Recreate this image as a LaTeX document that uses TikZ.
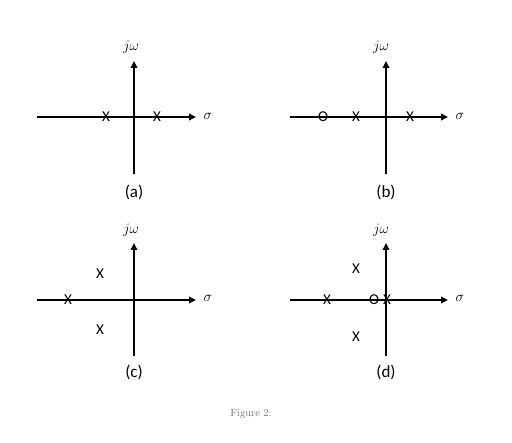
\documentclass[tikz,border=0pt]{standalone}
\usepackage{fontspec}
\newfontfamily\lblfont{Carlito}
\usetikzlibrary{arrows.meta}
\begin{document}
\begin{tikzpicture}[x=1pt,y=-1pt,
  axis/.style={line width=1.8pt},
  axarrow/.style={axis,-{Triangle[length=7pt,width=6.5pt]}},
  pzmark/.style={font=\lblfont\fontsize{15}{15}\selectfont, inner sep=0pt},
  panel/.style={font=\lblfont\fontsize{17}{17}\selectfont, inner sep=0pt},
  axlabel/.style={font=\fontsize{14}{14}\selectfont, inner sep=0pt},
  caption/.style={font=\fontsize{10.5}{10.5}\selectfont, text=black!55, inner sep=0pt}]
\useasboundingbox (0,0) rectangle (512,443);
\fill[white] (0,0) rectangle (512,443);

% ---------- panel (a) ----------
\coordinate (aL) at (37,117);
\coordinate (aR) at (196,117);
\coordinate (aT) at (134,61);
\coordinate (aB) at (134,174);
\draw[axarrow] (aL) -- (aR);
\draw[axarrow] (aB) -- (aT);
\node[axlabel] (ajw) at (131,47) {$j\omega$};
\node[axlabel] (asig) at (208,116) {$\sigma$};
\node[pzmark] (ax1) at (106,117) {X};
\node[pzmark] (ax2) at (157,117) {X};
\node[panel] (alab) at (134,192) {(a)};

% ---------- panel (b) ----------
\coordinate (bL) at (290,117);
\coordinate (bR) at (448,117);
\coordinate (bT) at (386,61);
\coordinate (bB) at (386,174);
\draw[axarrow] (bL) -- (bR);
\draw[axarrow] (bB) -- (bT);
\node[axlabel] (bjw) at (381,47) {$j\omega$};
\node[axlabel] (bsig) at (460,116) {$\sigma$};
\node[pzmark] (bo1) at (323,117) {O};
\node[pzmark] (bx1) at (356,117) {X};
\node[pzmark] (bx2) at (410,117) {X};
\node[panel] (blab) at (386,192) {(b)};

% ---------- panel (c) ----------
\coordinate (cL) at (37,300);
\coordinate (cR) at (196,300);
\coordinate (cT) at (134,243);
\coordinate (cB) at (134,356);
\draw[axarrow] (cL) -- (cR);
\draw[axarrow] (cB) -- (cT);
\node[axlabel] (cjw) at (131,230) {$j\omega$};
\node[axlabel] (csig) at (208,298) {$\sigma$};
\node[pzmark] (cx1) at (68,300) {X};
\node[pzmark] (cx2) at (100,274) {X};
\node[pzmark] (cx3) at (100,330) {X};
\node[panel] (clab) at (134,372) {(c)};

% ---------- panel (d) ----------
\coordinate (dL) at (290,300);
\coordinate (dR) at (448,300);
\coordinate (dT) at (386,243);
\coordinate (dB) at (386,356);
\draw[axarrow] (dL) -- (dR);
\draw[axarrow] (dB) -- (dT);
\node[axlabel] (djw) at (381,230) {$j\omega$};
\node[axlabel] (dsig) at (460,298) {$\sigma$};
\node[pzmark] (dx1) at (327,300) {X};
\node[pzmark] (dx2) at (356,269) {X};
\node[pzmark] (dx3) at (356,337) {X};
\node[pzmark] (do1) at (374,300) {O};
\node[pzmark] (dx4) at (387,300) {X};
\node[panel] (dlab) at (386,372) {(d)};

% ---------- caption ----------
\node[caption] (cap) at (251,414) {Figure 2:};
\end{tikzpicture}
\end{document}
